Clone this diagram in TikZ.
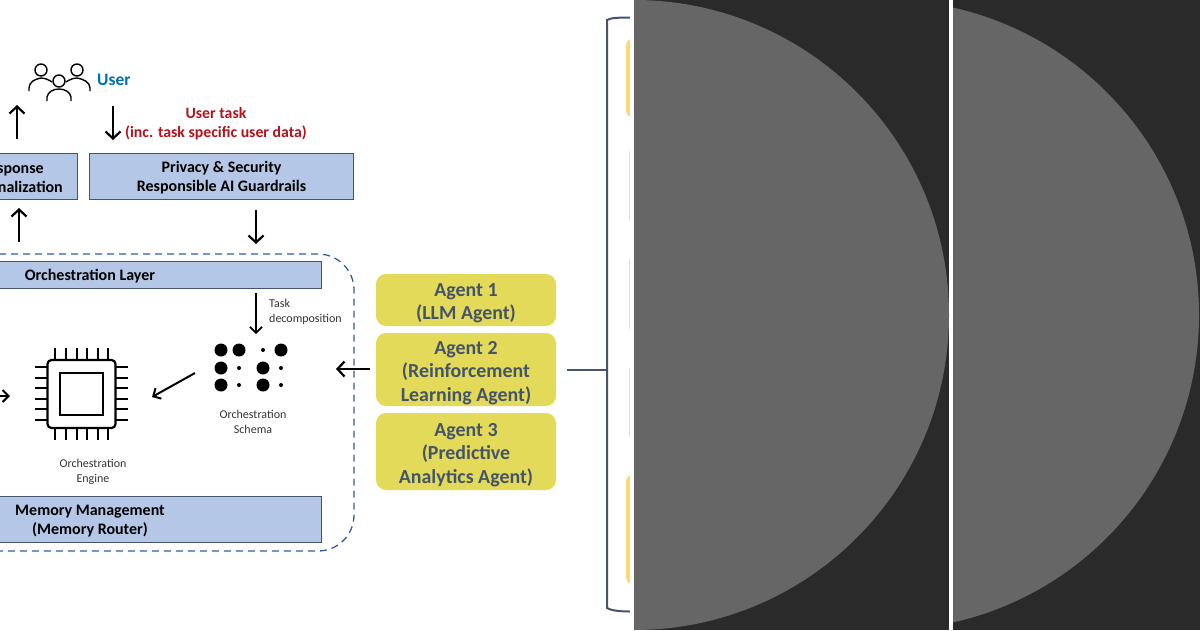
\documentclass[tikz,border=0pt]{standalone}
\usepackage{fontspec}
\setmainfont{Carlito}
\usetikzlibrary{arrows.meta}
\definecolor{boxblue}{HTML}{B4C7E7}
\definecolor{slate}{HTML}{44546A}
\definecolor{agentyellow}{HTML}{E3DA5A}
\definecolor{framedash}{HTML}{2F5F9E}
\definecolor{userblue}{HTML}{0070B0}
\definecolor{taskred}{HTML}{B5121B}
\definecolor{stripe}{HTML}{FDD878}
\definecolor{panel}{HTML}{2A2A2A}
\definecolor{disc}{HTML}{666666}
\tikzset{
  bluebox/.style={draw=slate, line width=0.9pt, fill=boxblue, inner sep=0pt, align=center,
    font=\fontsize{16}{19}\selectfont\bfseries, text height=34pt},
  agentbox/.style={fill=agentyellow, rounded corners=10pt, inner sep=0pt, minimum width=180pt,
    align=center, text=slate, font=\fontsize{19.9}{23.5}\selectfont\bfseries},
  smalllabel/.style={inner sep=0pt, align=center, text=black!80, font=\fontsize{12}{15}\selectfont},
  flow/.style={line width=2.2pt, -{Straight Barb[length=7pt,width=15pt]}},
  thinflow/.style={line width=1.7pt, -{Straight Barb[length=6pt,width=12pt]}},
  chipline/.style={line width=2.2pt, black},
  bracketline/.style={line width=2pt, slate},
}
\begin{document}
\begin{tikzpicture}[x=1pt, y=-1pt]
  \clip[use as bounding box] (0,0) rectangle (1200,630);

  % dashed frame
  \node[draw=framedash, line width=1.3pt, dash pattern=on 7pt off 5pt, rounded corners=36pt,
    inner sep=0pt, minimum width=514pt, minimum height=297pt] (frame) at (97,402.5) {};

  % boxes
  \node[bluebox, minimum width=130pt, minimum height=46pt] (response) at (12,176) {Response\\Personalization};
  \node[bluebox, minimum width=264pt, minimum height=46pt] (privacy) at (221.5,176) {Privacy \& Security\\Responsible AI Guardrails};
  \node[bluebox, minimum width=463pt, minimum height=27pt, text height=15pt] (orch) at (90,274.5) {Orchestration Layer};
  \node[bluebox, minimum width=463pt, minimum height=46pt] (memory) at (90,519) {Memory Management\\(Memory Router)};

  % user
  \foreach \x/\y in {41/70, 77/70, 59/81} {
    \draw[line width=1.4pt] (\x,\y) circle (6pt);
  };
  \draw[line width=1.4pt] (29,91) -- (29,88) .. controls (29,82) and (35,79) .. (41,78) .. controls (45,78) and (49,80) .. (52,82);
  \draw[line width=1.4pt] (90,91) -- (90,88) .. controls (90,82) and (83,79) .. (77,78) .. controls (73,78) and (69,80) .. (66,82);
  \draw[line width=1.4pt] (47,101) -- (47,97) .. controls (48,92) and (53,89) .. (59,89) .. controls (65,89) and (70,92) .. (71,97) -- (71,101);
  \node[inner sep=0pt, anchor=west, text=userblue, font=\fontsize{17.5}{20}\selectfont\bfseries] (userlabel) at (97,80) {User};
  \node[inner sep=0pt, align=center, text=taskred, font=\fontsize{15.8}{19}\selectfont\bfseries] (usertask) at (216,124) {User task\\(inc. task specific user data)};

  % arrows between the boxes
  \coordinate (upa) at (17,139);
  \coordinate (upb) at (17,105);
  \coordinate (downa) at (113,106);
  \coordinate (downb) at (113,140);
  \coordinate (upc) at (19,242);
  \coordinate (upd) at (19,208);
  \coordinate (downc) at (256,210);
  \coordinate (downd) at (256,244);
  \draw[flow] (upa) -- (upb);
  \draw[flow] (downa) -- (downb);
  \draw[flow] (upc) -- (upd);
  \draw[flow] (downc) -- (downd);

  % engine chip
  \foreach \x in {55,66,77,87,98,108} {
    \draw[chipline] (\x,348) -- (\x,360);
    \draw[chipline] (\x,428) -- (\x,440);
  };
  \foreach \y in {367,378,388,399,409,420} {
    \draw[chipline] (35,\y) -- (47,\y);
    \draw[chipline] (116,\y) -- (128,\y);
  };
  \node[draw, line width=2.2pt, rounded corners=4pt, inner sep=0pt, minimum width=68pt, minimum height=68pt] (engine) at (81.5,394) {};
  \node[draw, line width=2.2pt, inner sep=0pt, minimum width=43pt, minimum height=42pt] (core) at (81.5,394) {};
  \node[smalllabel] (enginelabel) at (93,471.5) {Orchestration\\Engine};

  % schema dots
  \foreach \x/\y/\r in {221/350/6.5, 239/350/6.5, 263/350/2, 281/350/6.5,
    221/368/6.5, 239/368/2, 263/368/6.5, 281/368/2,
    221/385/6.5, 239/385/2, 263/385/6.5, 281/385/2} {
    \fill (\x,\y) circle (\r pt);
  };
  \node[smalllabel] (schemalabel) at (253,421.5) {Orchestration\\Schema};
  \node[smalllabel, anchor=west, align=left] (tasklabel) at (269,312) {Task\\decomposition};

  % arrows inside the frame
  \coordinate (taska) at (256,293);
  \coordinate (taskb) at (256,334);
  \coordinate (schemaout) at (195,373);
  \coordinate (enginein) at (152,397);
  \coordinate (leftin) at (-10,396);
  \coordinate (leftout) at (10,396);
  \draw[thinflow] (taska) -- (taskb);
  \draw[thinflow, line width=2pt] (schemaout) -- (enginein);
  \draw[thinflow, line width=2pt] (leftin) -- (leftout);

  % agents
  \node[agentbox, minimum height=52pt, text height=43pt] (agentone) at (466,300) {Agent 1\\(LLM Agent)};
  \node[agentbox, minimum height=73pt, text height=66.5pt] (agenttwo) at (466,369.5) {Agent 2\\(Reinforcement\\Learning Agent)};
  \node[agentbox, minimum height=77pt, text height=66.5pt] (agentthree) at (466,451.5) {Agent 3\\(Predictive\\Analytics Agent)};
  \coordinate (agentsout) at (370,369);
  \coordinate (frameinlet) at (336,369);
  \draw[flow] (agentsout) -- (frameinlet);

  % bracket
  \coordinate (bracketmid) at (607,370);
  \draw[bracketline] (agenttwo.east) ++(11,0.5) -- (bracketmid);
  \draw[bracketline] (630,17.5) .. controls (618,17.5) and (610,18) .. (607,20) -- (607,608) .. controls (610,610) and (618,611.5) .. (630,611.5);

  % yellow edges
  \begin{scope}
    \clip (600,0) rectangle (630,630);
    \fill[stripe, rounded corners=8pt] (626,38) rectangle (660,118);
    \fill[stripe!80] (629,151) rectangle (631,220);
    \fill[stripe!80] (629,259) rectangle (631,329);
    \fill[stripe!80] (629,368) rectangle (631,436);
    \fill[stripe, rounded corners=8pt] (626,474) rectangle (660,585);
  \end{scope}

  % dark panels
  \fill[white] (630,0) rectangle (634,630);
  \begin{scope}
    \clip (634,0) rectangle (949,630);
    \fill[panel] (634,0) rectangle (949,630);
    \fill[disc] (634,315) circle (315pt);
  \end{scope}
  \begin{scope}
    \clip (953,0) rectangle (1200,630);
    \fill[panel] (953,0) rectangle (1200,630);
    \fill[disc] (884,315) circle (315pt);
  \end{scope}
\end{tikzpicture}
\end{document}
